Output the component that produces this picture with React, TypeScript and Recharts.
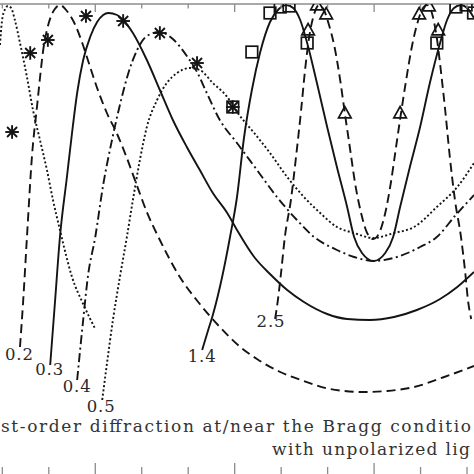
import React from 'react';
import { ComposedChart, Line, Scatter, XAxis, YAxis } from 'recharts';

type P = { x: number; y: number };

// x: position along the axis (minor tick every 10), y: response (100 = top frame)
const curve01: P[] = [
  { x: -0.5, y: 91.8 }, { x: -0.1, y: 96.4 }, { x: 0.6, y: 99.0 }, { x: 1.2, y: 99.6 },
  { x: 1.9, y: 99.2 }, { x: 2.7, y: 96.8 }, { x: 3.8, y: 92.2 }, { x: 5.3, y: 85.4 },
  { x: 6.6, y: 78.8 }, { x: 8.1, y: 72.8 }, { x: 9.6, y: 66.8 }, { x: 10.9, y: 60.8 },
  { x: 12.4, y: 54.8 }, { x: 13.7, y: 49.8 }, { x: 15.0, y: 45.4 }, { x: 17.4, y: 40.0 },
  { x: 20.0, y: 35.0 },
];

const curve02: P[] = [
  { x: 3.8, y: 31.4 }, { x: 4.5, y: 40.8 }, { x: 5.3, y: 53.4 }, { x: 6.4, y: 69.8 },
  { x: 7.5, y: 79.8 }, { x: 8.1, y: 85.2 }, { x: 8.8, y: 90.8 }, { x: 9.6, y: 94.8 },
  { x: 10.5, y: 97.6 }, { x: 11.3, y: 99.0 }, { x: 12.4, y: 99.8 }, { x: 13.9, y: 98.6 },
  { x: 15.6, y: 96.0 }, { x: 17.2, y: 92.2 }, { x: 18.2, y: 89.4 }, { x: 20.4, y: 83.2 },
  { x: 22.5, y: 78.2 }, { x: 24.7, y: 74.0 }, { x: 26.8, y: 69.2 }, { x: 29.0, y: 63.6 },
  { x: 31.1, y: 58.4 }, { x: 33.9, y: 52.8 }, { x: 38.2, y: 45.4 }, { x: 42.5, y: 40.0 },
  { x: 46.8, y: 35.4 }, { x: 51.2, y: 31.4 }, { x: 54.8, y: 29.0 }, { x: 59.8, y: 26.4 },
  { x: 64.9, y: 24.6 }, { x: 70.5, y: 23.0 }, { x: 77.8, y: 22.4 }, { x: 82.8, y: 22.6 },
  { x: 88.6, y: 23.4 }, { x: 95.1, y: 25.4 }, { x: 101.5, y: 27.6 },
];

const curve03: P[] = [
  { x: 10.3, y: 27.8 }, { x: 11.3, y: 40.0 }, { x: 12.4, y: 53.4 }, { x: 13.9, y: 65.4 },
  { x: 15.0, y: 74.2 }, { x: 16.1, y: 82.2 }, { x: 17.4, y: 88.8 }, { x: 18.9, y: 93.4 },
  { x: 20.4, y: 96.4 }, { x: 21.7, y: 97.8 }, { x: 22.8, y: 98.2 }, { x: 24.7, y: 97.8 },
  { x: 26.0, y: 96.8 }, { x: 28.1, y: 94.2 }, { x: 31.1, y: 88.8 }, { x: 33.9, y: 82.8 },
  { x: 36.7, y: 76.8 }, { x: 39.7, y: 71.4 }, { x: 42.5, y: 66.8 }, { x: 45.3, y: 62.2 },
  { x: 48.4, y: 58.2 }, { x: 50.5, y: 54.8 }, { x: 54.2, y: 49.4 }, { x: 57.6, y: 46.0 },
  { x: 61.3, y: 42.8 }, { x: 64.9, y: 40.4 }, { x: 69.9, y: 38.0 }, { x: 74.2, y: 37.0 },
  { x: 79.1, y: 36.8 }, { x: 84.3, y: 37.4 }, { x: 89.2, y: 38.8 }, { x: 94.2, y: 41.0 },
  { x: 97.9, y: 43.4 }, { x: 101.5, y: 46.4 },
];

const curve04: P[] = [
  { x: 16.1, y: 24.8 }, { x: 17.4, y: 36.8 }, { x: 18.4, y: 45.4 }, { x: 20.0, y: 53.4 },
  { x: 21.7, y: 63.8 }, { x: 23.6, y: 72.8 }, { x: 25.3, y: 79.8 }, { x: 27.0, y: 85.8 },
  { x: 29.0, y: 90.8 }, { x: 31.1, y: 93.6 }, { x: 33.9, y: 94.4 }, { x: 36.7, y: 93.0 },
  { x: 39.7, y: 89.6 }, { x: 41.9, y: 86.4 }, { x: 44.0, y: 82.2 }, { x: 46.8, y: 76.8 },
  { x: 50.5, y: 72.2 }, { x: 54.8, y: 66.8 }, { x: 59.1, y: 61.4 }, { x: 63.4, y: 56.8 },
  { x: 67.1, y: 53.4 }, { x: 72.0, y: 50.8 }, { x: 75.7, y: 49.4 }, { x: 80.0, y: 48.6 },
  { x: 84.9, y: 49.4 }, { x: 89.9, y: 51.4 }, { x: 93.5, y: 53.4 }, { x: 97.4, y: 57.6 },
  { x: 101.5, y: 61.8 },
];

const curve05: P[] = [
  { x: 21.5, y: 20.8 }, { x: 22.5, y: 28.0 }, { x: 23.8, y: 36.8 }, { x: 25.3, y: 45.4 },
  { x: 26.8, y: 53.4 }, { x: 28.1, y: 60.8 }, { x: 29.6, y: 68.8 }, { x: 31.1, y: 75.4 },
  { x: 33.3, y: 80.8 }, { x: 35.4, y: 84.2 }, { x: 37.6, y: 86.2 }, { x: 40.4, y: 87.2 },
  { x: 42.5, y: 86.8 }, { x: 45.3, y: 84.2 }, { x: 48.4, y: 81.4 }, { x: 50.5, y: 78.4 },
  { x: 54.2, y: 74.2 }, { x: 57.6, y: 70.2 }, { x: 61.3, y: 65.4 }, { x: 64.9, y: 61.4 },
  { x: 68.4, y: 58.2 }, { x: 72.0, y: 55.4 }, { x: 75.7, y: 54.2 }, { x: 79.8, y: 53.2 },
  { x: 84.3, y: 54.2 }, { x: 88.6, y: 55.4 }, { x: 93.5, y: 59.4 }, { x: 97.9, y: 63.4 },
  { x: 101.5, y: 68.2 },
];

const curve14: P[] = [
  { x: 43.0, y: 30.8 }, { x: 44.3, y: 34.8 }, { x: 45.3, y: 37.8 }, { x: 47.3, y: 45.4 },
  { x: 49.0, y: 53.4 }, { x: 50.5, y: 61.4 }, { x: 52.0, y: 73.2 }, { x: 53.7, y: 82.8 },
  { x: 55.5, y: 90.4 }, { x: 57.6, y: 96.4 }, { x: 59.5, y: 99.0 }, { x: 61.1, y: 99.8 },
  { x: 62.6, y: 99.2 }, { x: 64.1, y: 96.8 }, { x: 65.6, y: 92.2 }, { x: 67.7, y: 84.2 },
  { x: 69.9, y: 75.4 }, { x: 72.0, y: 67.4 }, { x: 74.2, y: 59.4 }, { x: 75.7, y: 53.4 },
  { x: 77.4, y: 50.2 }, { x: 79.9, y: 48.6 }, { x: 82.4, y: 50.2 }, { x: 84.1, y: 53.4 },
  { x: 85.6, y: 59.4 }, { x: 87.7, y: 67.4 }, { x: 89.9, y: 75.4 }, { x: 92.0, y: 84.2 },
  { x: 94.2, y: 92.2 }, { x: 95.7, y: 96.8 }, { x: 97.2, y: 99.2 }, { x: 98.7, y: 99.8 },
  { x: 100.2, y: 99.0 }, { x: 101.5, y: 97.2 },
];

const curve25: P[] = [
  { x: 58.7, y: 37.0 }, { x: 59.3, y: 40.8 }, { x: 60.0, y: 46.4 }, { x: 60.8, y: 53.4 },
  { x: 62.1, y: 60.8 }, { x: 63.2, y: 69.4 }, { x: 64.3, y: 78.8 }, { x: 65.1, y: 86.4 },
  { x: 66.0, y: 93.2 }, { x: 67.1, y: 98.0 }, { x: 68.2, y: 99.8 }, { x: 69.2, y: 98.8 },
  { x: 70.3, y: 95.8 }, { x: 71.4, y: 91.8 }, { x: 72.7, y: 84.8 }, { x: 73.7, y: 78.2 },
  { x: 74.8, y: 71.2 }, { x: 75.9, y: 64.2 }, { x: 77.2, y: 58.2 }, { x: 78.5, y: 54.2 },
  { x: 79.8, y: 53.0 }, { x: 81.1, y: 54.2 }, { x: 82.4, y: 58.2 }, { x: 83.6, y: 64.2 },
  { x: 84.7, y: 71.2 }, { x: 85.8, y: 78.2 }, { x: 86.9, y: 84.8 }, { x: 88.2, y: 91.8 },
  { x: 89.2, y: 95.8 }, { x: 90.3, y: 98.8 }, { x: 91.4, y: 99.8 }, { x: 92.5, y: 98.0 },
  { x: 93.5, y: 93.2 }, { x: 94.4, y: 86.4 }, { x: 95.3, y: 78.8 }, { x: 96.3, y: 69.4 },
  { x: 97.4, y: 60.8 }, { x: 98.7, y: 53.4 }, { x: 99.6, y: 46.4 }, { x: 100.2, y: 40.8 },
  { x: 100.9, y: 37.0 },
];

const starPoints: P[] = [
  { x: 2.1, y: 74.4 }, { x: 6.0, y: 90.2 }, { x: 9.8, y: 92.8 }, { x: 18.0, y: 97.6 },
  { x: 26.0, y: 96.6 }, { x: 33.9, y: 94.2 }, { x: 41.9, y: 88.2 }, { x: 49.6, y: 79.4 },
];

const squarePoints: P[] = [
  { x: 49.6, y: 79.4 }, { x: 53.7, y: 90.4 }, { x: 57.6, y: 98.2 }, { x: 59.8, y: 99.4 },
  { x: 61.7, y: 99.6 }, { x: 65.6, y: 92.2 }, { x: 93.5, y: 92.2 }, { x: 97.6, y: 99.4 },
  { x: 99.8, y: 99.8 }, { x: 101.4, y: 98.2 },
];

const trianglePoints: P[] = [
  { x: 65.8, y: 94.8 }, { x: 67.7, y: 99.8 }, { x: 69.7, y: 98.0 }, { x: 73.7, y: 78.2 },
  { x: 85.6, y: 78.2 }, { x: 89.7, y: 98.0 }, { x: 91.8, y: 99.6 }, { x: 93.8, y: 94.8 },
];

const xTicks = [0, 10, 20, 30, 40, 50, 60, 70, 80, 90, 100];
const majorTicks = [20, 50, 80];

const titleLine1 = 'st-order diffraction at/near the Bragg conditio';
const titleLine2 = 'with unpolarized lig';

const INK = '#141414';
const AXIS = '#8c8c8c';
const FONT = '"DejaVu Serif", serif';

const DOTTED = '2 2.3';
const DASHED = '9 5';
const DASHDOT = '9 3.5 2 3.5';

const series = [
  { id: 'c01', data: curve01, dash: DOTTED, label: '', dx: 0, dy: 0 },
  { id: 'c02', data: curve02, dash: DASHED, label: '0.2', dx: -1, dy: 13 },
  { id: 'c03', data: curve03, dash: undefined, label: '0.3', dx: -1, dy: 10 },
  { id: 'c04', data: curve04, dash: DASHDOT, label: '0.4', dx: -0.5, dy: 12 },
  { id: 'c05', data: curve05, dash: DOTTED, label: '0.5', dx: -1.5, dy: 12 },
  { id: 'c14', data: curve14, dash: undefined, label: '1.4', dx: -0.5, dy: 12 },
  { id: 'c25', data: curve25, dash: DASHED, label: '2.5', dx: -4.5, dy: 8 },
];

const TopTick = (props: any) => {
  const { x, y, payload } = props;
  const len = majorTicks.includes(payload.value) ? 8 : 4.5;
  return <line x1={x} x2={x} y1={y} y2={y + len} stroke={AXIS} strokeWidth={1.3} />;
};

const BottomTick = (props: any) => {
  const { x, y, payload } = props;
  const len = majorTicks.includes(payload.value) ? 11 : 7;
  return <line x1={x} x2={x} y1={y} y2={y - len} stroke={AXIS} strokeWidth={1.3} />;
};

const StarShape = (p: any) => {
  const { cx, cy } = p;
  const r = 6.8;
  const d = 5;
  return (
    <g stroke={INK} strokeWidth={1.9}>
      <line x1={cx - r} y1={cy} x2={cx + r} y2={cy} />
      <line x1={cx} y1={cy - r} x2={cx} y2={cy + r} />
      <line x1={cx - d} y1={cy - d} x2={cx + d} y2={cy + d} />
      <line x1={cx - d} y1={cy + d} x2={cx + d} y2={cy - d} />
    </g>
  );
};

const SquareShape = (p: any) => {
  const { cx, cy } = p;
  return <rect x={cx - 5.8} y={cy - 5.8} width={11.6} height={11.6} fill="none" stroke={INK} strokeWidth={1.7} />;
};

const TriangleShape = (p: any) => {
  const { cx, cy } = p;
  const pts = `${cx},${cy - 6.5} ${cx - 6.3},${cy + 4.8} ${cx + 6.3},${cy + 4.8}`;
  return <polygon points={pts} fill="none" stroke={INK} strokeWidth={1.7} />;
};

const makeLabel = (text: string, dx: number, dy: number) => (p: any) => (
  <text
    x={p.cx + dx}
    y={p.cy + dy}
    textAnchor="middle"
    fontFamily={FONT}
    fontSize={16.5}
    fill="#2a2a2a"
    textLength={28}
    lengthAdjust="spacing"
  >
    {text}
  </text>
);

export default function App() {
  return (
    <div style={{ position: 'absolute', left: 0, top: 0, width: 474, height: 474, background: '#fff', overflow: 'hidden' }}>
      <ComposedChart width={474} height={474} margin={{ top: 0, right: 0, bottom: 0, left: 0 }}>
        <XAxis
          xAxisId="top"
          orientation="top"
          type="number"
          dataKey="x"
          domain={[-0.5, 101.5]}
          allowDataOverflow
          ticks={xTicks}
          interval={0}
          height={4}
          tickSize={0}
          tickMargin={0}
          tickLine={false}
          axisLine={{ stroke: AXIS, strokeWidth: 1.5 }}
          tick={TopTick}
        />
        <XAxis
          xAxisId="bottom"
          orientation="bottom"
          mirror
          type="number"
          dataKey="x"
          domain={[-0.5, 101.5]}
          allowDataOverflow
          ticks={xTicks}
          interval={0}
          height={4}
          tickSize={0}
          tickMargin={0}
          tickLine={false}
          axisLine={false}
          tick={BottomTick}
        />
        <YAxis yAxisId="v" type="number" dataKey="y" domain={[6, 100]} allowDataOverflow hide width={0} />
        {series.map((s) => (
          <Line
            key={s.id}
            xAxisId="top"
            yAxisId="v"
            data={s.data}
            dataKey="y"
            type="monotone"
            stroke={INK}
            strokeWidth={1.9}
            strokeDasharray={s.dash}
            dot={false}
            activeDot={false}
            isAnimationActive={false}
          />
        ))}
        <Scatter xAxisId="top" yAxisId="v" data={starPoints} dataKey="y" shape={StarShape} isAnimationActive={false} />
        <Scatter xAxisId="top" yAxisId="v" data={squarePoints} dataKey="y" shape={SquareShape} isAnimationActive={false} />
        <Scatter xAxisId="top" yAxisId="v" data={trianglePoints} dataKey="y" shape={TriangleShape} isAnimationActive={false} />
        {series
          .filter((s) => s.label)
          .map((s) => (
            <Scatter
              key={`lbl-${s.id}`}
              xAxisId="top"
              yAxisId="v"
              data={[s.data[0]]}
              dataKey="y"
              shape={makeLabel(s.label, s.dx, s.dy)}
              isAnimationActive={false}
            />
          ))}
        <text x={1} y={432} fontFamily={FONT} fontSize={17} fill="#333" textLength={470} lengthAdjust="spacing">
          {titleLine1}
        </text>
        <text x={272} y={455} fontFamily={FONT} fontSize={17} fill="#333" textLength={198} lengthAdjust="spacing">
          {titleLine2}
        </text>
      </ComposedChart>
    </div>
  );
}
